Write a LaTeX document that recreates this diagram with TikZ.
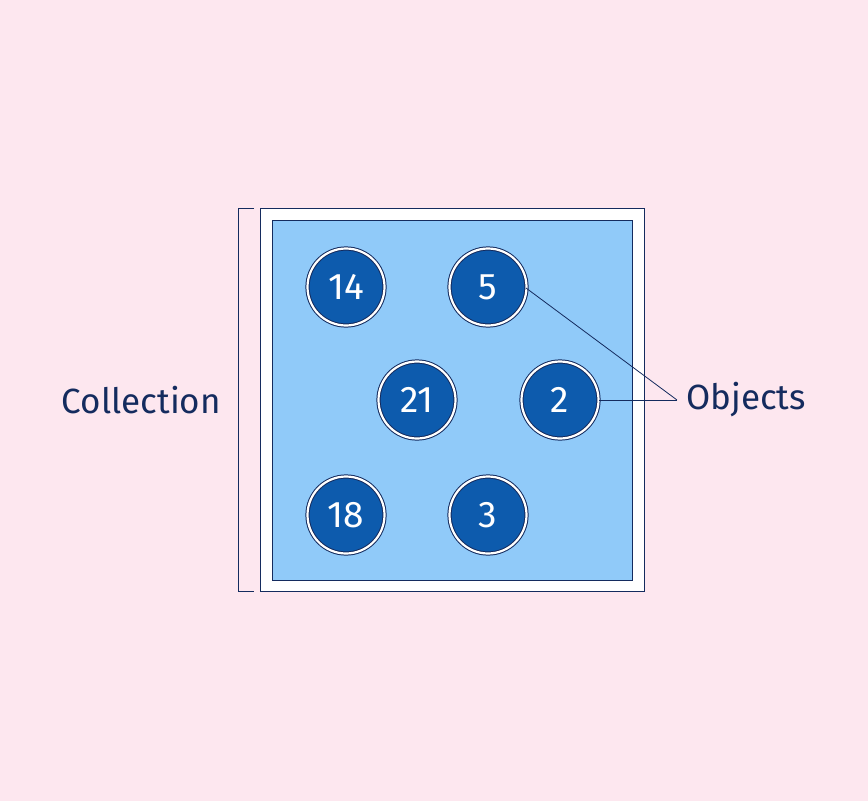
\documentclass[tikz,border=0pt]{standalone}
\usepackage{fontspec}
\setmainfont{Fira Sans}
\usepackage{tikz}
\usetikzlibrary{calc,positioning}
\definecolor{bgpink}{HTML}{FDE7EF}
\definecolor{boxblue}{HTML}{90CAF9}
\definecolor{objblue}{HTML}{0D5BAD}
\definecolor{navy}{HTML}{142B5E}
\begin{document}
\begin{tikzpicture}[x=1pt,y=-1pt]
        
        \tikzstyle{obj}=[circle,draw=navy,fill=objblue,text=white,line width=1pt,double=white,double distance=2.2pt,minimum size=77pt,inner sep=0pt,font=\fontsize{37}{37}\selectfont]
        \tikzstyle{lbl}=[text=navy,font=\fontsize{35}{35}\selectfont,inner sep=0pt]
        
        \fill[bgpink] (0,0) rectangle (868,801);
        \draw[navy,fill=white,line width=0.8pt] (260,208) rectangle (644,591);
        \draw[navy,fill=boxblue,line width=0.8pt] (272,220) rectangle (632,580);
        \draw[navy,line width=0.8pt] (254,208) -- (238,208) -- (238,591) -- (254,591);
        
        \node[obj] (n14) at (346,287) {14};
        \node[obj] (n5) at (488,287) {5};
        \node[obj] (n21) at (417,400) {21};
        \node[obj] (n2) at (560,400) {2};
        \node[obj] (n18) at (346,515) {18};
        \node[obj] (n3) at (488,515) {3};
        
        \node[lbl,anchor=east] (coll) at (221,400) {Collection};
        \node[lbl,anchor=west] (objs) at (686,400) {Objects};
        \coordinate (tip) at (677,400);
        
        \draw[navy,line width=0.8pt] (n5.east) ++(-1,1) -- (tip);
        \draw[navy,line width=0.8pt] (n2.east) -- (tip);
        
      \end{tikzpicture}
\end{document}
